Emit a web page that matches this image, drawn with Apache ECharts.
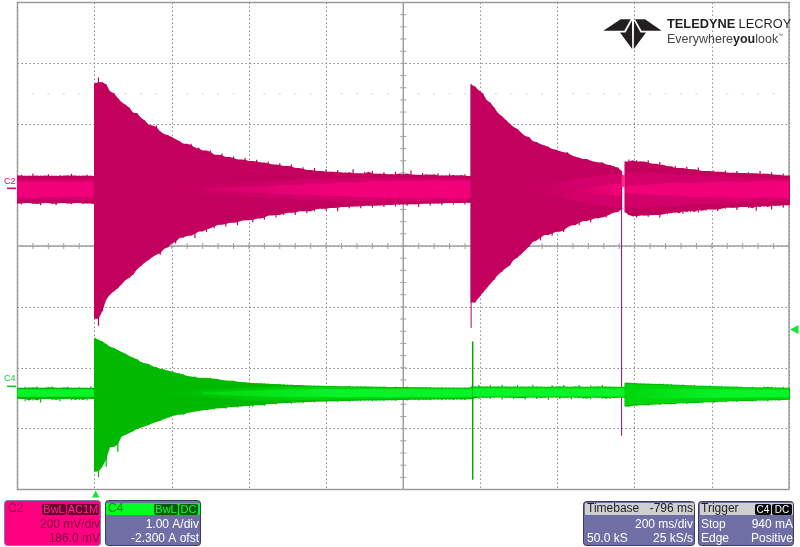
<!DOCTYPE html>
<html>
<head>
<meta charset="utf-8">
<style>html,body{margin:0;padding:0;background:#fff}#c{width:800px;height:547px}</style>
<script src="https://cdn.jsdelivr.net/npm/echarts@6/dist/echarts.min.js"></script>
</head>
<body>
<div id="c"></div>
<script>
// ---- Trace envelopes. Time in ms after the trigger, C2 in mV, C4 in mA. ----
const STEP_MS = 10;
const c2Flat = { start: -200,
  upper: [46,48,44,45,52,44,46,44,50,45,44,47,44,46,51,44,46,44,49,45,44],
  lower: [-46,-50,-45,-44,-48,-46,-52,-45,-44,-47,-52,-45,-44,-46,-49,-45,-44,-48,-46,-45,-50] };
const c2Burst1 = { start: 0,
  upper: [349,368,352,345,322,316,300,286,278,268,252,250,235,226,212,205,210,190,182,178,172,165,158,150,146,150,134,138,128,124,128,114,112,118,106,103,108,98,97,104,93,92,97,88,86,92,82,80,86,77,76,82,70,68,73,64,62,70,60,58,66,58,56,64,54,56,53,66,53,52,58,52,60,51,51,56,50,50,58,49,52,49,62,48,47,54,47,50,46,53,46,46,51,45,47,45,50,44,44],
  lower: [-425,-448,-400,-362,-345,-335,-325,-312,-298,-290,-280,-262,-252,-240,-232,-222,-210,-215,-195,-190,-172,-178,-160,-158,-152,-146,-160,-138,-132,-140,-122,-128,-116,-114,-122,-110,-108,-118,-103,-101,-100,-108,-96,-92,-100,-86,-84,-92,-80,-84,-77,-76,-84,-72,-72,-78,-67,-72,-64,-64,-70,-61,-60,-72,-58,-57,-62,-56,-55,-62,-54,-54,-60,-53,-52,-58,-51,-50,-56,-50,-50,-54,-48,-49,-58,-47,-47,-53,-46,-46,-52,-45,-45,-50,-45,-44,-50,-44,-44] };
const c2Burst2 = { start: 976,
  upper: [345,338,325,316,294,285,268,250,240,228,216,205,198,186,175,172,158,156,148,144,140,133,130,125,120,122,112,107,104,100,100,94,91,88,88,82,80,75,72,60],
  lower: [-372,-372,-355,-340,-325,-310,-296,-280,-270,-258,-250,-232,-224,-212,-200,-188,-172,-158,-168,-150,-145,-152,-139,-134,-140,-124,-118,-110,-118,-104,-100,-108,-94,-96,-88,-92,-82,-76,-74,-66] };
const c2Tail = { start: 1375,
  upper: [92,98,90,96,92,88,96,84,82,90,80,76,70,78,70,68,74,66,64,72,60,60,56,62,58,56,62,54,55,60,54,52,56,53,50,60,51,50,56,48,46,52,44,46],
  lower: [-75,-84,-88,-92,-84,-86,-90,-80,-84,-92,-78,-82,-74,-78,-72,-80,-70,-74,-68,-76,-66,-70,-62,-66,-72,-60,-64,-58,-60,-68,-56,-58,-62,-56,-70,-54,-58,-54,-66,-54,-52,-60,-52,-52] };

const c4Flat = { start: -200,
  upper: [-28,-28,-14,-28,-24,-10,-28,-28,-20,-8,-28,-28,-26,-12,-28,-28,-18,-28,-28,-4,-28],
  lower: [-208,-215,-250,-208,-240,-215,-272,-208,-215,-230,-208,-250,-212,-208,-235,-210,-228,-208,-240,-210,-215] };
const c4Burst1 = { start: 0,
  upper: [792,760,730,690,645,625,590,560,530,495,465,440,395,375,360,325,310,285,270,250,240,218,205,190,165,150,155,132,135,128,136,118,112,100,92,87,85,72,62,66,54,50,44,46,40,38,34,30,36,26,21,20,16,18,12,10,6,8,4,2,6,0,-4,2,-6,-4,5,-8,-8,-2,-10,-12,-6,-14,-14,-8,-16,-16,-10,-18,-18,-12,-20,-22,-16,-22,-24,-18,-24,-26,-22,-26,-28,-20,-28,-26,-28,-22,-28],
  lower: [-1405,-1500,-1200,-1325,-1000,-960,-1080,-830,-800,-770,-745,-700,-680,-660,-640,-610,-590,-570,-540,-520,-495,-480,-470,-470,-445,-430,-420,-410,-400,-395,-375,-385,-365,-360,-375,-345,-340,-355,-335,-330,-322,-340,-318,-312,-325,-295,-292,-305,-285,-280,-275,-290,-270,-268,-280,-262,-260,-272,-256,-254,-266,-250,-250,-262,-246,-246,-258,-242,-240,-252,-238,-238,-250,-236,-234,-246,-232,-232,-244,-228,-228,-240,-226,-226,-238,-224,-224,-232,-222,-222,-234,-220,-220,-230,-218,-220,-228,-216,-216] };
const c4Burst2 = { start: 976,
  upper: [-8,-10,18,-12,-8,14,-12,-10,20,-12,-6,-12,16,-12,-10,-12,22,-12,-8,-12,-12,12,-12,-10,18,-12,-12,-6,16,-12,-12,10,-12,-8,18,-12,-10,-12,-16,-14,-14],
  lower: [-205,-190,-215,-190,-192,-210,-190,-188,-220,-190,-192,-214,-190,-196,-220,-190,-190,-212,-192,-190,-224,-190,-190,-212,-192,-190,-218,-190,-192,-208,-190,-216,-190,-192,-210,-190,-214,-190,-195,-192,-192] };
const c4Tail = { start: 1375,
  upper: [54,54,50,46,40,36,42,32,38,30,36,26,30,22,18,26,12,10,20,6,4,2,10,-4,-8,5,-10,-14,-6,-16,-8,-20,-22,-12,-24,-24,-10,-26,-14,-26,-28,-12,-28,-30],
  lower: [-335,-335,-320,-325,-310,-315,-320,-305,-300,-310,-295,-300,-290,-300,-285,-282,-295,-280,-278,-270,-280,-268,-265,-275,-260,-258,-265,-250,-252,-262,-245,-245,-250,-240,-250,-238,-236,-256,-235,-232,-240,-230,-226,-225] };

// Lighter inner bands (null separates pieces)
const c2MidTimes = [-200,-170,-140,-110,-80,-50,-20,-2,null,180,220,260,300,340,380,420,460,500,540,580,620,660,700,740,780,820,860,900,940,978,null,1120,1160,1200,1240,1280,1320,1364,null,1376,1420,1460,1500,1540,1580,1620,1660,1700,1740,1800];
const c2MidUpper = [34,32,35,33,34,32,35,33,null,3,8,12,18,16,24,22,30,28,36,33,38,36,40,36,38,37,36,38,36,36,null,4,14,22,34,40,48,52,null,58,54,56,48,50,44,44,40,38,36,34];
const c2MidLower = [-34,-36,-33,-35,-32,-35,-34,-33,null,-3,-9,-11,-19,-16,-26,-24,-32,-28,-38,-34,-38,-36,-38,-40,-36,-38,-38,-36,-38,-36,null,-5,-16,-24,-36,-46,-56,-60,null,-58,-60,-54,-56,-50,-48,-46,-44,-40,-38,-36];
const c2CoreTimes = [-200,-160,-120,-80,-40,-2,null,280,320,360,400,440,480,520,560,600,640,680,720,760,800,840,880,920,978,null,1240,1280,1320,1364,null,1376,1440,1500,1560,1620,1680,1740,1800];
const c2CoreUpper = [26,24,27,25,26,24,null,2,6,5,10,9,15,14,20,18,24,22,28,26,29,27,30,28,29,null,3,8,14,20,null,10,16,22,20,26,24,28,27];
const c2CoreLower = [-26,-28,-25,-27,-24,-26,null,-2,-5,-7,-10,-12,-14,-18,-18,-22,-22,-26,-26,-28,-28,-30,-28,-30,-28,null,-3,-10,-16,-22,null,-12,-18,-20,-26,-24,-28,-27,-28];
const c4MidTimes = [160,200,240,280,320,360,400,440,480,520,600,700,800,900,978,null,980,1374,null,1375,1500,1650,1800];
const c4MidUpper = [-118,-100,-80,-60,-44,-40,-26,-22,-14,-12,-14,-24,-30,-34,-36,null,-22,-22,null,35,10,-20,-35];
const c4MidLower = [-125,-140,-165,-185,-205,-215,-235,-240,-236,-232,-225,-215,-210,-205,-200,null,-180,-180,null,-310,-280,-240,-215];
const c4CoreTimes = [-200,-2,null,280,340,400,460,520,580,640,700,760,820,880,978,null,980,1374,null,1375,1500,1800];
const c4CoreUpper = [-52,-52,null,-100,-90,-72,-60,-56,-50,-52,-48,-54,-50,-56,-52,null,-40,-40,null,-40,-50,-60];
const c4CoreLower = [-175,-175,null,-135,-150,-165,-175,-182,-178,-185,-178,-184,-176,-182,-178,null,-170,-170,null,-225,-200,-180];

// Single-sample glitches
const c2BlobTimes = [1366,1375];
const c2BlobUpper = [47,47];
const c2BlobLower = [8,8];
const c2SpikeTimes = [976,1366];
const c2SpikeHigh = [345,-60];
const c2SpikeLow = [-455,-809];
const c4SpikeTimes = [980];
const c4SpikeHigh = [731];
const c4SpikeLow = [-1540];

// Graticule
const xMajorMs = [-200,0,200,400,600,800,1000,1200,1400,1600,1800];
const xMinorMs = [];
for (let t = -200; t <= 1800; t += 40) xMinorMs.push(t);
const yMinorDiv = [];
for (let d = -20; d <= 20; d++) yMinorDiv.push(d / 5);

// Readout texts
const c2Readout = ['C2','BwL','AC1M','200 mV/div','186.0 mV'];
const c4Readout = ['C4','BwL','DC','1.00 A/div','-2.300 A ofst'];
const timebaseReadout = ['Timebase','-796 ms','200 ms/div','50.0 kS','25 kS/s'];
const triggerReadout = ['Trigger','C4','DC','Stop','940 mA','Edge','Positive'];

const FONT = '"Liberation Sans", Arial, sans-serif';
const chart = echarts.init(document.getElementById('c'), null, {renderer:'canvas'});

// fills: one fill per null-separated piece
function bandSeries(times, upper, lower, fills, yIdx, z) {
  return { type:'custom', coordinateSystem:'cartesian2d', xAxisIndex:0, yAxisIndex:yIdx, z, silent:true, clip:true,
    data:[0],
    renderItem(params, api) {
      const children = [];
      let up = [], lo = [], piece = 0;
      const flush = () => {
        if (up.length > 1) children.push({type:'polygon', shape:{points: up.concat(lo.reverse())}, style:{fill:fills[piece % fills.length]}});
        up = []; lo = []; piece++;
      };
      times.forEach((t,i) => {
        if (t === null) { flush(); return; }
        up.push(api.coord([t, upper[i]]));
        lo.push(api.coord([t, lower[i]]));
      });
      flush();
      return {type:'group', children};
    }};
}
const median3 = (a,b,c) => Math.max(Math.min(a,b), Math.min(Math.max(a,b),c));
// Solid body following the smoothed envelope, with each sample's own extreme as a 1px tick.
function segSeries(seg, color, yIdx, z) {
  return { type:'custom', coordinateSystem:'cartesian2d', xAxisIndex:0, yAxisIndex:yIdx, z, silent:true, clip:true,
    data:[0],
    renderItem(params, api) {
      const n = Math.min(seg.upper.length, seg.lower.length);
      const up = [], lo = [], children = [];
      for (let i = 0; i < n; i++) {
        const t = seg.start + i * STEP_MS;
        const a = Math.max(0,i-1), b = Math.min(n-1,i+1);
        up.push(api.coord([t,median3(seg.upper[a],seg.upper[i],seg.upper[b])]));
        lo.push(api.coord([t,median3(seg.lower[a],seg.lower[i],seg.lower[b])]));
        const p = api.coord([t,seg.upper[i]]), q = api.coord([t,seg.lower[i]]);
        children.push({type:'line', shape:{x1:p[0],y1:p[1],x2:q[0],y2:q[1]}, style:{stroke:color,lineWidth:1.2}});
      }
      children.unshift({type:'polygon', shape:{points:up.concat(lo.reverse())}, style:{fill:color}});
      return {type:'group', children};
    }};
}
function spikeSeries(times, hi, lo, color, width, yIdx, z) {
  return { type:'custom', coordinateSystem:'cartesian2d', xAxisIndex:0, yAxisIndex:yIdx, z, silent:true, clip:true,
    data:[0],
    renderItem(params, api) {
      return {type:'group', children: times.map((t,i) => {
        const a = api.coord([t,hi[i]]), b = api.coord([t,lo[i]]);
        return {type:'line', shape:{x1:a[0],y1:a[1],x2:b[0],y2:b[1]}, style:{stroke:color,lineWidth:width}};
      })};
    }};
}
const graticule = { type:'custom', coordinateSystem:'cartesian2d', xAxisIndex:0, yAxisIndex:0, z:1, silent:true, data:[0],
  renderItem(params, api) {
    const ch = [];
    const col = '#a0a0a0';
    const ln = (x1,y1,x2,y2,w,c) => ch.push({type:'line', shape:{x1,y1,x2,y2}, style:{stroke:c||col,lineWidth:w}});
    const l = api.coord([-200,0]), r = api.coord([1800,0]), t = api.coord([800,4]), b = api.coord([800,-4]);
    ln(l[0],l[1],r[0],r[1],1.5);
    ln(t[0],t[1],b[0],b[1],1.5);
    xMinorMs.forEach(ms => { const p = api.coord([ms,0]); ln(p[0],p[1]-3,p[0],p[1]+3,1); });
    yMinorDiv.forEach(d => { const p = api.coord([800,d]); ln(p[0]-3,p[1],p[0]+3,p[1],1); });
    xMinorMs.filter(ms => !xMajorMs.includes(ms)).forEach(ms => {
      const p = api.coord([ms,2.5]); ln(p[0]-1,p[1],p[0]+1,p[1],1.2,'#d8d8d8');
    });
    return {type:'group', children:ch};
  }};

const PINK = {dark:'#c4005e', mid:'#d4006a', core:'#f2007a', blob:'#ff2a8c', spike:'#a3105c'};
const GREEN = {dark:'#00b900', mid:'#00d60c', core:'#08f428', spike:'#00a800'};
// Fade an inner band in from the surrounding colour along time
const fade = (from,to,stop) => new echarts.graphic.LinearGradient(0,0,1,0,[{offset:0,color:from},{offset:stop,color:to},{offset:1,color:to}]);

const series = [graticule];
[c2Flat,c2Burst1,c2Burst2,c2Tail].forEach(s => series.push(segSeries(s, PINK.dark, 1, 3)));
series.push(bandSeries(c2MidTimes,c2MidUpper,c2MidLower,[PINK.mid, fade(PINK.dark,PINK.mid,0.5), fade(PINK.dark,PINK.mid,0.6), PINK.mid],1,4));
series.push(bandSeries(c2CoreTimes,c2CoreUpper,c2CoreLower,[PINK.core, fade(PINK.mid,PINK.core,0.5), fade(PINK.mid,PINK.core,1), PINK.core],1,5));
series.push(bandSeries(c2BlobTimes,c2BlobUpper,c2BlobLower,[PINK.blob],1,5));
series.push(spikeSeries(c2SpikeTimes,c2SpikeHigh,c2SpikeLow,PINK.spike,1,1,5));
[c4Flat,c4Burst1,c4Burst2,c4Tail].forEach(s => series.push(segSeries(s, GREEN.dark, 2, 6)));
series.push(bandSeries(c4MidTimes,c4MidUpper,c4MidLower,[fade(GREEN.dark,GREEN.mid,0.5), GREEN.mid, GREEN.mid],2,7));
series.push(bandSeries(c4CoreTimes,c4CoreUpper,c4CoreLower,[GREEN.core, fade(GREEN.mid,GREEN.core,0.5), GREEN.core, fade(GREEN.mid,GREEN.core,0.6)],2,8));
series.push(spikeSeries(c4SpikeTimes,c4SpikeHigh,c4SpikeLow,GREEN.spike,1.5,2,6));

// ---- Overlay helpers ----
const g = [];
const rect = (x,y,w,h,fill,r,stroke) => g.push({type:'rect', z:20, silent:true, shape:{x,y,width:w,height:h,r:r||0}, style:{fill, stroke:stroke||null, lineWidth:stroke?1:0}});
const text = (x,y,t,fill,align,size,weight) => g.push({type:'text', z:21, silent:true, x, y, style:{text:t, fill, align:align||'left', verticalAlign:'middle', font:(weight||'normal')+' '+(size||12)+'px '+FONT}});
const poly = (pts,fill) => g.push({type:'polygon', z:20, silent:true, shape:{points:pts}, style:{fill}});

// Channel readouts
rect(4.5,500.5,96,45,'#ff0080',3,'#7a7ab0');
text(8,509,c2Readout[0],'#9a0050','left',12);
rect(42,504,24,11,'#6a0030',2); text(54,510,c2Readout[1],'#ff2a90','center',11);
rect(67,504,32,11,'#6a0030',2); text(83,510,c2Readout[2],'#ff2a90','center',11);
text(100,525,c2Readout[3],'#7a0040','right',12);
text(100,538.5,c2Readout[4],'#7a0040','right',12);

rect(105.5,500.5,95,45,'#6f6fa6',3,'#3c3c60');
rect(106,503,94,12,'#00ff20',1);
text(108,509,c4Readout[0],'#008a10','left',12);
rect(154,504,24,11,'#0a5a10',2); text(166,510,c4Readout[1],'#10ff30','center',11);
rect(179,504,19,11,'#0a5a10',2); text(188.5,510,c4Readout[2],'#10ff30','center',11);
text(199,525,c4Readout[3],'#ffffff','right',12);
text(199,538.5,c4Readout[4],'#ffffff','right',12);

// Timebase
rect(583.5,501.5,111,44,'#6f6fa6',3,'#3c3c60');
rect(585,503,109,12,'#cfcfcf',1);
text(587,509,timebaseReadout[0],'#222','left',12);
text(693,509,timebaseReadout[1],'#222','right',12);
text(693,525,timebaseReadout[2],'#fff','right',12);
text(587,538.5,timebaseReadout[3],'#fff','left',12);
text(693,538.5,timebaseReadout[4],'#fff','right',12);

// Trigger
rect(698.5,501.5,95,44,'#6f6fa6',3,'#3c3c60');
rect(700,503,93,12,'#cfcfcf',1);
text(701,509,triggerReadout[0],'#222','left',12);
rect(755,504,16,11,'#0a0a0a',2); text(763,510,triggerReadout[1],'#fff','center',10);
rect(772,504,20,11,'#0a0a0a',2); text(782,510,triggerReadout[2],'#fff','center',10);
text(701,525,triggerReadout[3],'#fff','left',12);
text(793,525,triggerReadout[4],'#fff','right',12);
text(701,538.5,triggerReadout[5],'#fff','left',12);
text(793,538.5,triggerReadout[6],'#fff','right',12);

// Channel markers and trigger arrows
text(4,181.5,'C2','#e8007a','left',9);
rect(7,187.5,9,1.6,'#e8007a');
text(4,378.5,'C4','#10d030','left',9);
rect(7,385.5,9,1.6,'#10d030');
poly([[92,497.5],[95.7,490.5],[99.4,497.5]],'#14e43c');
poly([[790,329.5],[798.5,325],[798.5,334]],'#14e43c');

// Logo
poly([[603.3,30.7],[620.7,19.3],[630.7,19.3],[624.3,30.7]],'#231f20');
poly([[661.7,30.7],[645,19.3],[635,19.3],[641.7,30.7]],'#231f20');
poly([[620,32.5],[625.5,32.5],[632,20.5],[632.2,49]],'#231f20');
poly([[646,32.5],[640.5,32.5],[634,20.5],[633.8,49]],'#231f20');
g.push({type:'text', z:21, silent:true, x:667, y:24.5, style:{
  text:'{a|TELEDYNE} {b|LECROY}', verticalAlign:'middle',
  rich:{a:{font:'bold 12.8px '+FONT, fill:'#231f20'}, b:{font:'normal 12.8px '+FONT, fill:'#231f20'}}}});
g.push({type:'text', z:21, silent:true, x:667, y:39.5, style:{
  text:'{a|Everywhere}{b|you}{a|look}{c|™}', verticalAlign:'middle',
  rich:{a:{font:'normal 12.5px '+FONT, fill:'#444'}, b:{font:'bold 12.5px '+FONT, fill:'#231f20'}, c:{font:'normal 5px '+FONT, fill:'#444', verticalAlign:'top'}}}});

const hiddenY = (min,max,extra) => Object.assign({type:'value', min, max, gridIndex:0, axisLine:{show:false}, axisTick:{show:false}, axisLabel:{show:false}, splitLine:{show:false}}, extra||{});

chart.setOption({
  animation:false,
  backgroundColor:'#ffffff',
  textStyle:{fontFamily:FONT},
  grid:{left:17.5, top:2.5, width:771.5, height:487, show:true, borderColor:'#a0a0a0', borderWidth:1.5, backgroundColor:'transparent', containLabel:false},
  xAxis:{type:'value', min:-200, max:1800, interval:200, axisLine:{show:false}, axisTick:{show:false}, axisLabel:{show:false},
    splitLine:{show:true, lineStyle:{color:'#8c8c8c', type:[1.5,2.5], width:1}}},
  yAxis:[
    hiddenY(-4,4,{interval:1, splitLine:{show:true, lineStyle:{color:'#8c8c8c', type:[1.5,2.5], width:1}}}),
    hiddenY(-986,614),
    hiddenY(-1700,6300)
  ],
  series,
  graphic:{elements:g}
});
</script>
</body>
</html>
